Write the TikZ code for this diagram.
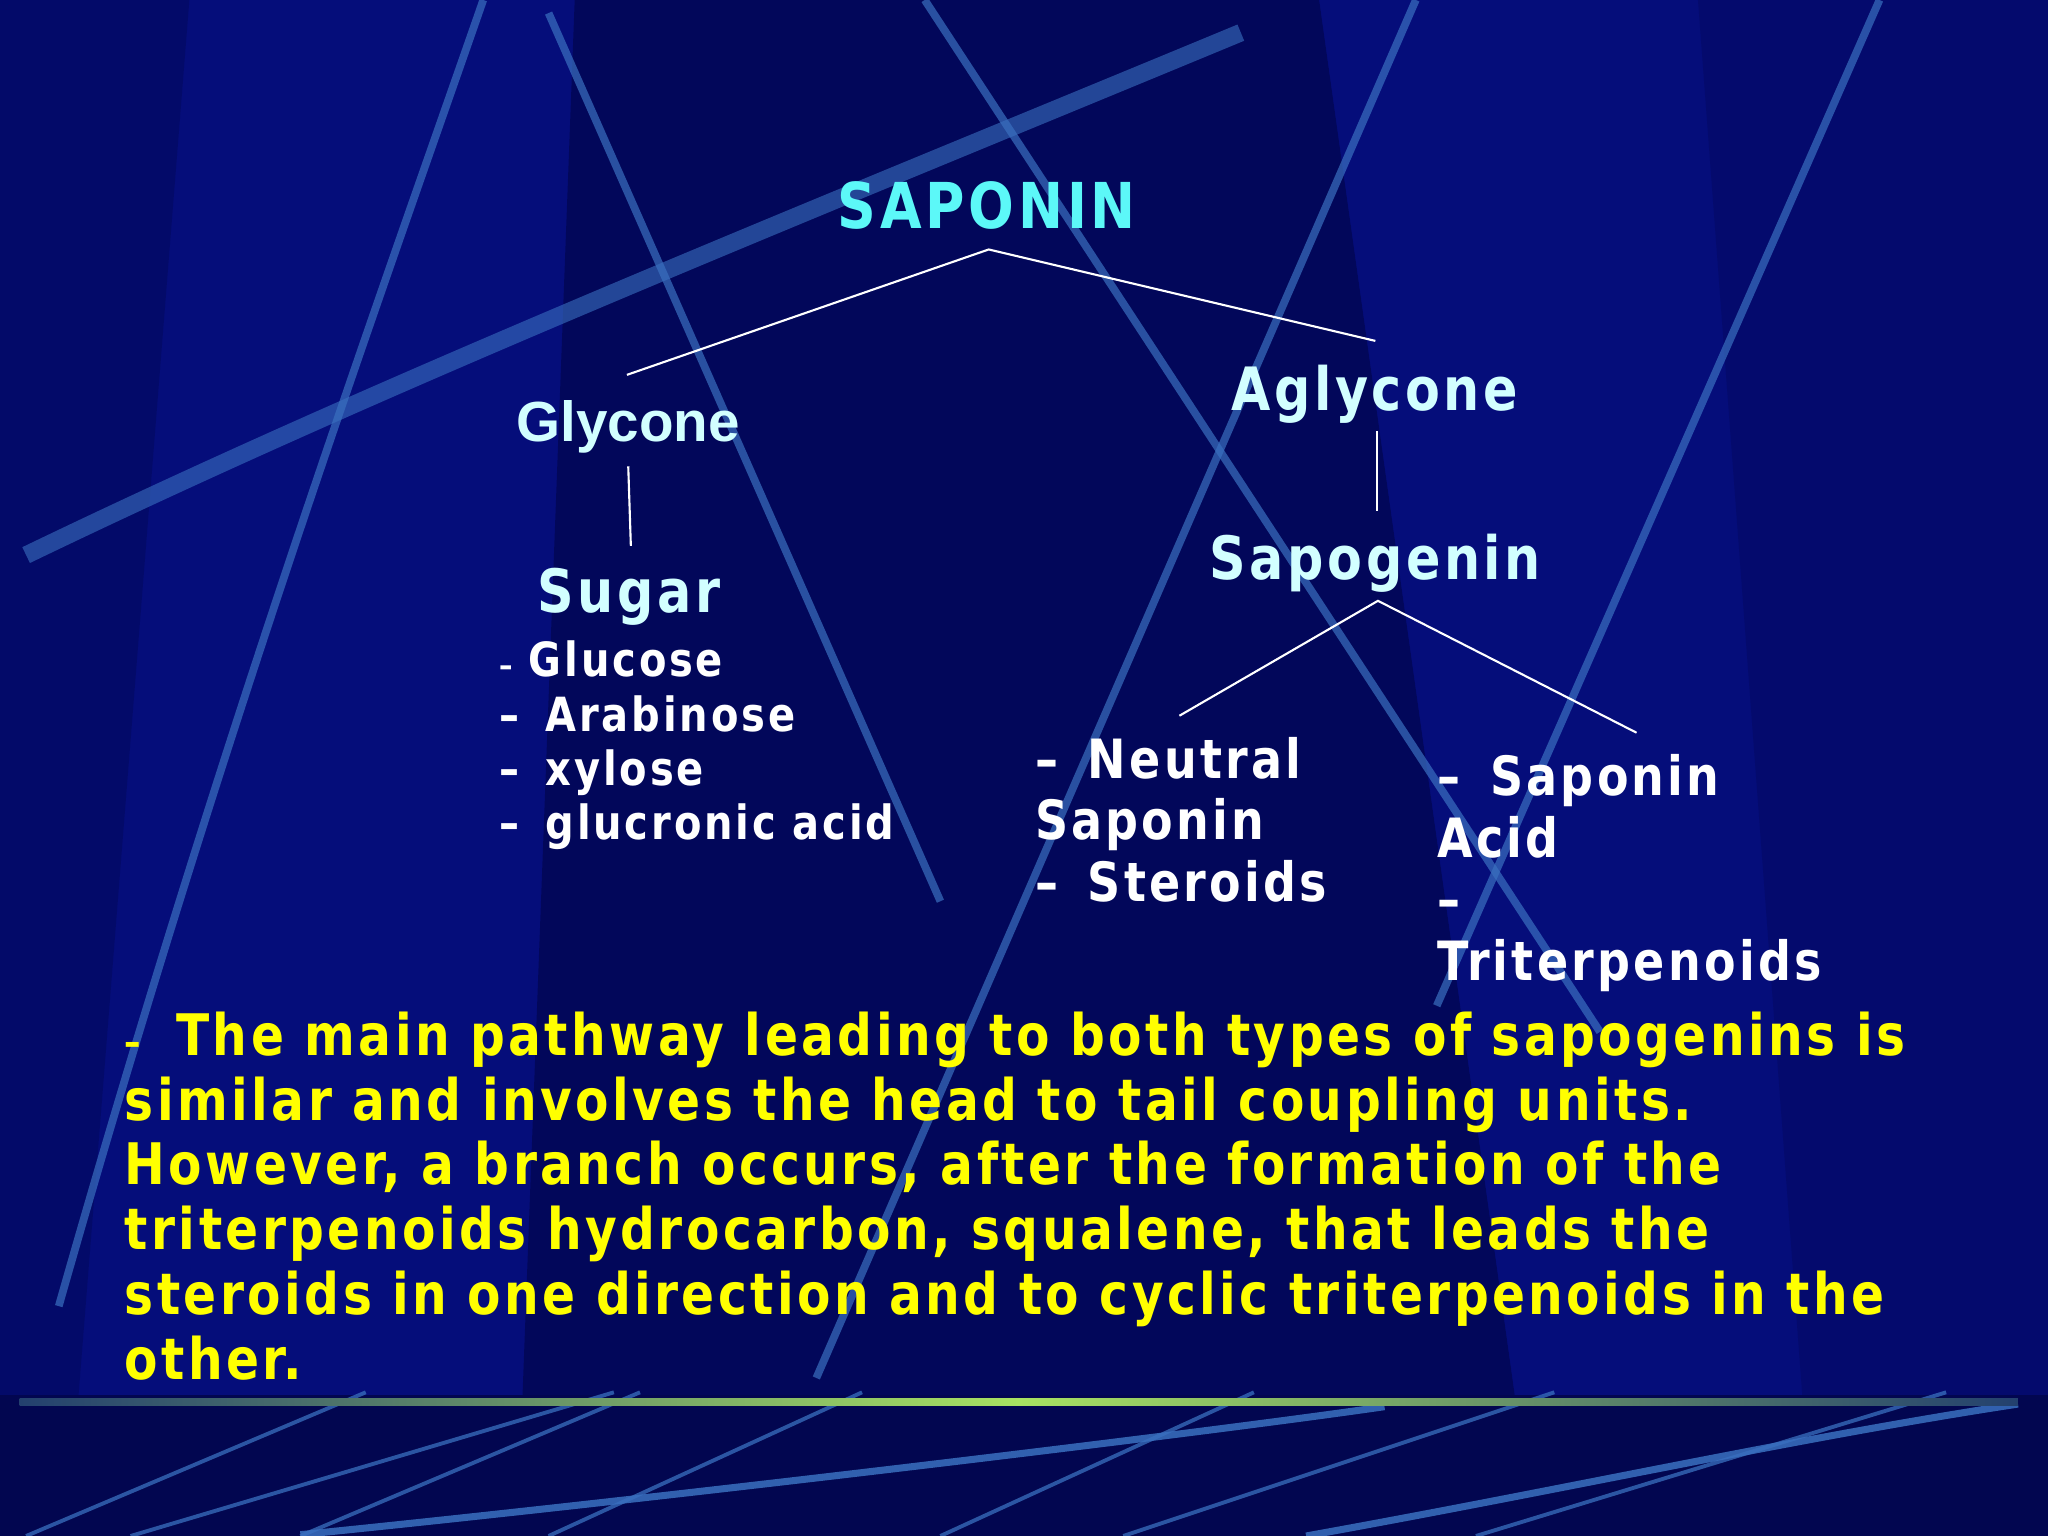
\documentclass[tikz,border=0pt]{standalone}
\usepackage{fontspec}
\setmainfont{DejaVu Sans}
\newfontfamily\slidefont[FakeStretch=0.85,LetterSpace=6]{DejaVu Sans}
\newfontfamily\glyfont{Liberation Sans}
\usepackage{xcolor}
\usepackage{tikz}
\usetikzlibrary{positioning}

\definecolor{navy}{HTML}{050D7A}
\definecolor{deepnavy}{HTML}{020650}
\definecolor{stripeblue}{HTML}{3A70C0}
\definecolor{titlecyan}{HTML}{5CF8F8}
\definecolor{palecyan}{HTML}{D2FFFF}
\definecolor{noteyellow}{HTML}{FFFF00}
\definecolor{limeglow}{HTML}{A8E262}
\definecolor{dimline}{HTML}{23406E}

\newcommand{\itemdash}{–\hspace{0.55em}}

\begin{document}
\begin{tikzpicture}[x=0.13061mm, y=-0.13061mm,
    stripe/.style={stripeblue, opacity=0.7, line width=2.2pt},
    thinstripe/.style={stripeblue, opacity=0.75, line width=1.1pt},
    branch/.style={white, line width=0.6pt},
    head/.style={palecyan, anchor=base, inner sep=0pt, font=\slidefont\bfseries\fontsize{17}{19}\selectfont},
    item/.style={white, anchor=base west, inner sep=0pt, font=\slidefont\bfseries\fontsize{15.4}{17}\selectfont},
    sugaritem/.style={item, font=\slidefont\bfseries\fontsize{13.4}{15}\selectfont},
    note/.style={noteyellow, anchor=base west, inner sep=0pt, font=\slidefont\bfseries\fontsize{16.3}{18.4}\selectfont}]

\useasboundingbox (0,0) rectangle (1568,1176);

% background
\fill[navy] (0,0) rectangle (1568,1176);
\fill[deepnavy, opacity=0.75] (440,0) -- (1010,0) -- (1160,1070) -- (400,1070) -- cycle;
\fill[deepnavy, opacity=0.4] (0,0) -- (145,0) -- (60,1070) -- (0,1070) -- cycle;
\fill[navy, opacity=0.6] (1010,0) -- (1165,0) -- (1250,1070) -- (1160,1070) -- cycle;
\fill[deepnavy, opacity=0.3] (1300,0) -- (1568,0) -- (1568,1070) -- (1380,1070) -- cycle;
\draw[stripeblue, opacity=0.6, line width=5pt] (20,425) .. controls (300,290) and (600,170) .. (950,25);
\draw[stripe] (370,0) .. controls (290,230) and (170,560) .. (45,1000);
\draw[stripe] (420,10) -- (720,690);
\draw[stripe] (708,0) -- (1225,790);
\draw[stripe] (1084,0) -- (625,1055);
\draw[stripe] (1439,0) -- (1100,770);
\fill[deepnavy] (0,1068) rectangle (1568,1176);
\foreach \a/\b in {280/20, 470/100, 490/230, 660/420, 960/720, 1190/860, 1490/1130}
    \draw[thinstripe] (\a,1066) .. controls ({0.6*\a+0.4*\b},1110) .. (\b,1176);
\draw[stripeblue, opacity=0.85, line width=2pt] (230,1175) .. controls (480,1150) and (900,1100) .. (1060,1077);
\draw[stripeblue, opacity=0.85, line width=2pt] (1000,1176) .. controls (1200,1140) and (1380,1100) .. (1545,1075);
\shade[left color=dimline, right color=limeglow] (15,1071) rectangle (780,1076);
\shade[left color=limeglow, right color=dimline] (780,1071) rectangle (1545,1076);

% tree
\node[head, titlecyan, font=\slidefont\bfseries\fontsize{18}{20}\selectfont] (saponin) at (755.5,175) {SAPONIN};
\node[head, font=\glyfont\bfseries\fontsize{16.1}{18}\selectfont] (glycone) at (481,338) {Glycone};
\node[head] (aglycone) at (1052.5,314) {Aglycone};
\node[head] (sugar) at (481.5,469) {Sugar};
\node[head] (sapogenin) at (1053,444) {Sapogenin};

\coordinate (saponin-foot) at (757,191);
\coordinate (glycone-top) at (480,287);
\coordinate (aglycone-top) at (1053,261);
\coordinate (glycone-foot) at (481,357);
\coordinate (sugar-top) at (483,418);
\coordinate (aglycone-foot) at (1054,330);
\coordinate (sapogenin-top) at (1054,391);
\coordinate (sapogenin-foot) at (1055,460);
\coordinate (neutral-top) at (903,548);
\coordinate (acid-top) at (1253,561);

\draw[branch] (glycone-top) -- (saponin-foot) -- (aglycone-top);
\draw[branch] (glycone-foot) -- (sugar-top);
\draw[branch] (aglycone-foot) -- (sapogenin-top);
\draw[branch] (neutral-top) -- (sapogenin-foot) -- (acid-top);

\node[sugaritem] (sugar-1) at (382,518) {{\fontsize{9}{9}\selectfont –}\hspace{4.5pt}Glucose};
\foreach \t [count=\i from 2] in {Arabinose, xylose, glucronic acid}
    \node[sugaritem] (sugar-\i) at (382,476.3+41.7*\i) {\itemdash\t};

\node[item] (neutral-1) at (792,596) {\itemdash Neutral};
\node[item] (neutral-2) at (792,643) {Saponin};
\node[item] (neutral-3) at (792,690.5) {\itemdash Steroids};

\node[item] (acid-1) at (1100,609) {\itemdash Saponin};
\foreach \t [count=\i from 2] in {Acid, –, Triterpenoids}
    \node[item] (acid-\i) at (1100,562+47.2*\i) {\t};

% pathway note
\node[note] (note-1) at (95,808) {{\fontsize{11}{11}\selectfont –}\hspace{10pt}The main pathway leading to both types of sapogenins is};
\foreach \t [count=\i from 2] in {similar and involves the head to tail coupling units.,
    {However, a branch occurs, after the formation of the},
    {triterpenoids hydrocarbon, squalene, that leads the},
    steroids in one direction and to cyclic triterpenoids in the,
    other.}
    \node[note] (note-\i) at (95,758.4+49.6*\i) {\t};

\end{tikzpicture}
\end{document}
